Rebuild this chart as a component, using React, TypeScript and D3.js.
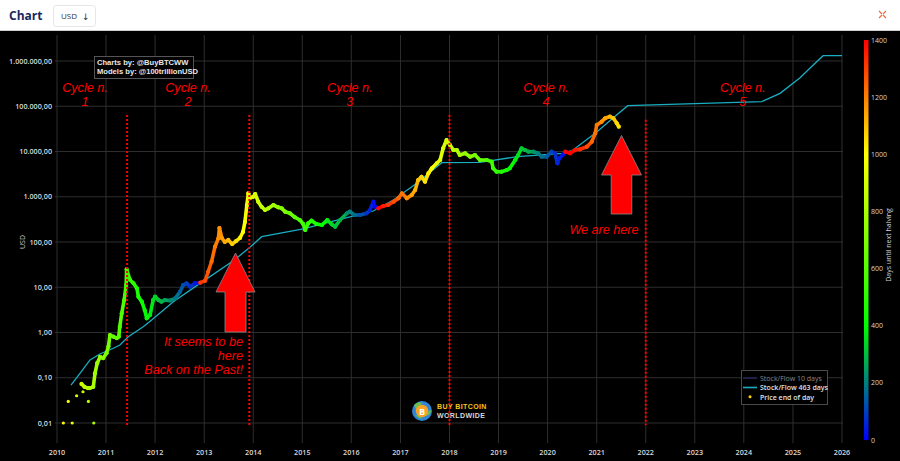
import React from 'react';
import * as d3 from 'd3';

const W = 900;
const H = 461;

// ---------- data ----------
const yearTicks = d3.range(2010, 2027);
const yTickValues = [0.01, 0.1, 1, 10, 100, 1000, 10000, 100000, 1000000];
const yTickLabels = ['0,01', '0,10', '1,00', '10,00', '100,00', '1.000,00', '10.000,00', '100.000,00', '1.000.000,00'];
const colorbarTicks = [0, 200, 400, 600, 800, 1000, 1200, 1400];
const halvingDates = ['2012-11-28', '2016-07-09', '2020-05-11', '2024-04-20'];

// Price end of day (decimal year, USD) – continuous part
const priceYears = [
  2010.50, 2010.56, 2010.63, 2010.67, 2010.74, 2010.775, 2010.82, 2010.88, 2010.94, 2011.01,
  2011.05, 2011.08, 2011.15, 2011.22, 2011.26, 2011.28, 2011.32, 2011.37, 2011.41, 2011.42,
  2011.49, 2011.56, 2011.63, 2011.66, 2011.73, 2011.79, 2011.83, 2011.90, 2011.96, 2012.00,
  2012.07, 2012.13, 2012.20, 2012.30, 2012.41, 2012.51, 2012.57, 2012.64, 2012.71, 2012.81,
  2012.92, 2013.02, 2013.08, 2013.15, 2013.22, 2013.29, 2013.31, 2013.36, 2013.42, 2013.49,
  2013.57, 2013.65, 2013.73, 2013.79, 2013.83, 2013.87, 2013.90, 2013.93, 2014.00, 2014.04,
  2014.10, 2014.17, 2014.24, 2014.31, 2014.41, 2014.51, 2014.58, 2014.65, 2014.75, 2014.85,
  2014.95, 2015.02, 2015.06, 2015.12, 2015.19, 2015.29, 2015.40, 2015.51, 2015.60, 2015.67,
  2015.77, 2015.91, 2015.97, 2016.07, 2016.18, 2016.31, 2016.38, 2016.45, 2016.48, 2016.55,
  2016.65, 2016.75, 2016.86, 2016.96, 2017.03, 2017.13, 2017.23, 2017.30, 2017.36, 2017.43,
  2017.50, 2017.57, 2017.64, 2017.74, 2017.81, 2017.87, 2017.94, 2018.01, 2018.08, 2018.15,
  2018.21, 2018.32, 2018.42, 2018.52, 2018.62, 2018.76, 2018.86, 2018.89, 2018.96, 2019.06,
  2019.17, 2019.23, 2019.34, 2019.40, 2019.47, 2019.54, 2019.61, 2019.71, 2019.81, 2019.88,
  2019.98, 2020.08, 2020.15, 2020.20, 2020.24, 2020.31, 2020.36, 2020.46, 2020.56, 2020.66,
  2020.80, 2020.90, 2020.97, 2021.00, 2021.10, 2021.17, 2021.27, 2021.34, 2021.41, 2021.45,
];
const priceUSD = [
  0.073, 0.063, 0.059, 0.059, 0.063, 0.125, 0.21, 0.29, 0.27, 0.35,
  0.49, 0.88, 0.81, 0.75, 0.81, 1.34, 2.65, 5.2, 11.2, 24.9,
  14.5, 12.2, 9.5, 6.2, 4.8, 3.1, 2.06, 2.44, 5.2, 6.2,
  5.2, 4.8, 5.2, 5.1, 5.7, 8.0, 11.2, 12.2, 10.3, 12.2,
  12.6, 14, 22, 37, 79, 121, 204, 122, 100, 111,
  90, 105, 123, 166, 277, 657, 1190, 940, 1000, 1150,
  780, 600, 510, 556, 657, 585, 556, 468, 431, 352,
  306, 250, 184, 259, 296, 250, 238, 306, 246, 218,
  306, 431, 468, 395, 395, 431, 509, 778, 603, 556,
  625, 657, 778, 925, 1190, 925, 1090, 1410, 2345, 2770,
  2150, 3300, 4255, 5490, 6490, 11770, 17950, 13930, 10790, 10790,
  8370, 9120, 7670, 8370, 6490, 6490, 5960, 4255, 3580, 3580,
  3900, 4255, 6490, 8370, 11770, 10790, 9900, 9900, 9120, 7670,
  7670, 9900, 9120, 5490, 7080, 8370, 9900, 9120, 10790, 11190,
  12770, 16480, 25240, 38550, 45600, 54200, 59300, 54200, 42000, 35300,
];
// Early isolated price dots
const strayYears = [2010.13, 2010.23, 2010.31, 2010.40, 2010.53, 2010.64, 2010.75];
const strayUSD = [0.01, 0.03, 0.01, 0.04, 0.049, 0.03, 0.01];

// Stock/Flow 463 days model
const s2fYears = [
  2010.285, 2010.469, 2010.673, 2010.876, 2011.148, 2011.284, 2011.453, 2011.759, 2011.930, 2012.371,
  2012.915, 2013.594, 2013.934, 2014.172, 2015.021, 2015.768, 2016.447, 2016.855, 2017.332, 2017.841,
  2018.622, 2019.376, 2020.314, 2020.518, 2021.007, 2021.333, 2021.633, 2024.364, 2024.737, 2025.145,
  2025.349, 2025.614, 2026.0,
];
const s2fUSD = [
  0.069, 0.125, 0.247, 0.335, 0.448, 0.53, 0.807, 1.34, 1.89, 4.8,
  12.2, 38.6, 76.4, 131, 194, 318, 484, 847, 1983, 5660,
  5770, 7670, 9120, 10790, 27400, 55000, 102800, 126100, 193000, 428000,
  700000, 1310000, 1310000,
];

const cycleLabelYears = [2010.57, 2012.67, 2015.97, 2019.97, 2023.98];
const cycleNumbers = ['1', '2', '3', '4', '5'];
const cycleLineYears = [2011.43, 2013.92, 2018.0, 2022.0];
const cycleLineTops = [64000, 64000, 64000, 50000];
const pastNoteLines = ['It seems to be', 'here', 'Back on the Past!'];

const colorStops = [0, 400, 1000, 1400];
const colorRange = ['#0000ff', '#00ff00', '#ffff00', '#ff0000'];

// ---------- helpers ----------
const toDate = (y: number) => {
  const yr = Math.floor(y);
  const s = Date.UTC(yr, 0, 1);
  const e = Date.UTC(yr + 1, 0, 1);
  return new Date(s + (y - yr) * (e - s));
};
const halvings = halvingDates.map((d) => new Date(d + 'T00:00:00Z'));
const daysUntilHalving = (d: Date) => {
  const h = halvings.find((x) => x.getTime() > d.getTime()) || halvings[halvings.length - 1];
  return (h.getTime() - d.getTime()) / 864e5;
};

const xScale = d3.scaleUtc()
  .domain([new Date(Date.UTC(2010, 0, 1)), new Date(Date.UTC(2026, 0, 1))])
  .range([57, 842]);
const yScale = d3.scaleLog().domain([0.01, 1e6]).range([423, 61]);
const colorScale = d3.scaleLinear<string>().domain(colorStops).range(colorRange).clamp(true);
const cbScale = d3.scaleLinear().domain([0, 1400]).range([440, 40]);

const PLOT = { left: 55, right: 843, top: 35, bottom: 443 };
const FONT = "'Open Sans', 'DejaVu Sans', sans-serif";
const NOTE_FONT = "'Liberation Sans', Arial, sans-serif";
const NOTE_SIZE = 12.6;
const NOTE_LH = 14.2;
const CYAN = '#19adc1';
const RED = '#ff0000';

function Arrow({ tipX, tipY, headY, halfHead, halfShaft, bottomY }: any) {
  const pts = [
    [tipX, tipY],
    [tipX + halfHead, headY],
    [tipX + halfShaft, headY],
    [tipX + halfShaft, bottomY],
    [tipX - halfShaft, bottomY],
    [tipX - halfShaft, headY],
    [tipX - halfHead, headY],
  ];
  return <polygon points={pts.map((p) => p.join(',')).join(' ')} fill={RED} stroke="#8a8a8a" strokeWidth={0.8} />;
}

export default function App() {
  const price = priceYears.map((y, i) => {
    const d = toDate(y);
    return { x: xScale(d), y: yScale(priceUSD[i]), c: colorScale(daysUntilHalving(d)) };
  });
  const stray = strayYears.map((y, i) => {
    const d = toDate(y);
    return { x: xScale(d), y: yScale(strayUSD[i]), c: colorScale(daysUntilHalving(d)) };
  });
  const s2fLine = d3.line<number>()
    .x((_, i) => xScale(toDate(s2fYears[i])))
    .y((v) => yScale(v))(s2fUSD) as string;

  return (
    <svg width={W} height={H} style={{ position: 'absolute', left: 0, top: 0, fontFamily: FONT }}>
      <defs>
        <linearGradient id="cb" x1="0" y1="1" x2="0" y2="0">
          {colorStops.map((s, i) => (
            <stop key={i} offset={s / 1400} stopColor={colorRange[i]} />
          ))}
        </linearGradient>
      </defs>
      {/* header */}
      <rect x={0} y={0} width={W} height={31} fill="#fff" />
      <text x={9} y={20} fontSize={12} fontWeight={700} fill="#17295a">Chart</text>
      <rect x={53.5} y={5.5} width={42} height={21} rx={3} fill="#fff" stroke="#e6e6e6" />
      <text x={61} y={19} fontSize={8} fill="#333">USD</text>
      <text x={82} y={19.5} fontSize={9} fill="#333">↓</text>
      <path d="M879,11 l3,3 M886,11 l-3,3 M879,18 l3,-3 M886,18 l-3,-3" stroke="#f26a3d" strokeWidth={1.2} fill="none" />
      <rect x={0} y={30} width={W} height={1} fill="#cfcfcf" />
      {/* chart background */}
      <rect x={0} y={31} width={W} height={H - 31} fill="#000" />

      {/* grid */}
      {yearTicks.map((yr) => {
        const x = xScale(new Date(Date.UTC(yr, 0, 1)));
        return (
          <g key={yr}>
            <line x1={x} x2={x} y1={PLOT.top} y2={PLOT.bottom} stroke="#2e2e2e" strokeWidth={1} />
            <text x={x} y={455} fontSize={7.2} fontWeight={600} fill="#d8d8d8" textAnchor="middle">{yr}</text>
          </g>
        );
      })}
      {yTickValues.map((v, i) => {
        const y = yScale(v);
        return (
          <g key={v}>
            <line x1={PLOT.left} x2={PLOT.right} y1={y} y2={y} stroke="#2e2e2e" strokeWidth={1} />
            <text x={52} y={y + 2.5} fontSize={7.2} fontWeight={600} fill="#d8d8d8" textAnchor="end">{yTickLabels[i]}</text>
          </g>
        );
      })}
      <text transform="translate(25,242) rotate(-90)" fontSize={7} fill="#cfcfcf" textAnchor="middle">USD</text>

      {/* logo */}
      <g>
        <circle cx={422} cy={411} r={10} fill="#2f86d6" />
        <path d="M414,405 q4,-4 8,-2 q-2,4 -6,6 z M426,416 q5,-1 5,-6 q-4,1 -5,6 z M415,415 q3,3 7,4 q-1,-4 -7,-4 z" fill="#6cc04a" />
        <circle cx={422} cy={411} r={6.2} fill="#f7a325" />
        <text x={422} y={414.5} fontSize={9} fontWeight={700} fill="#fff" textAnchor="middle">B</text>
        <text x={437} y={409.3} fontFamily={NOTE_FONT} fontSize={7} fontWeight={700} fill="#f5c518" letterSpacing={0.4}>BUY BITCOIN</text>
        <text x={437} y={417.8} fontFamily={NOTE_FONT} fontSize={7} fontWeight={700} fill="#d8d8d8" letterSpacing={0.4}>WORLDWIDE</text>
      </g>

      {/* S2F 463 days */}
      <path d={s2fLine} fill="none" stroke={CYAN} strokeWidth={1.3} />

      {/* price: stray dots */}
      {stray.map((p, i) => (
        <circle key={'s' + i} cx={p.x} cy={p.y} r={1.6} fill={p.c} />
      ))}
      {/* price: continuous segments */}
      {price.slice(1).map((p, i) => (
        <line key={'l' + i} x1={price[i].x} y1={price[i].y} x2={p.x} y2={p.y} stroke={price[i].c} strokeWidth={3.6} strokeLinecap="round" />
      ))}
      {price.map((p, i) => (
        <circle key={'p' + i} cx={p.x} cy={p.y} r={2.1} fill={p.c} />
      ))}

      {/* cycle lines */}
      {cycleLineYears.map((yr, i) => {
        const x = xScale(toDate(yr));
        return (
          <line key={'c' + i} x1={x} x2={x} y1={yScale(cycleLineTops[i])} y2={yScale(0.009)} stroke={RED} strokeWidth={2} strokeDasharray="2,2" />
        );
      })}
      {/* cycle labels */}
      {cycleLabelYears.map((yr, i) => {
        const x = xScale(toDate(yr));
        return (
          <text key={'cl' + i} x={x} y={91.5} fontFamily={NOTE_FONT} fontStyle="italic" fontSize={NOTE_SIZE} fill={RED} textAnchor="middle">
            <tspan x={x} dy={0}>Cycle n.</tspan>
            <tspan x={x} dy={NOTE_LH}>{cycleNumbers[i]}</tspan>
          </text>
        );
      })}

      {/* arrows & notes */}
      <Arrow tipX={235.5} tipY={253} headY={292} halfHead={19.5} halfShaft={10.5} bottomY={332} />
      <text x={243} y={345.5} fontFamily={NOTE_FONT} fontStyle="italic" fontSize={NOTE_SIZE} fill={RED} textAnchor="end">
        {pastNoteLines.map((l, i) => (
          <tspan key={i} x={243} dy={i === 0 ? 0 : NOTE_LH}>{l}</tspan>
        ))}
      </text>
      <Arrow tipX={621.5} tipY={135.5} headY={175} halfHead={20} halfShaft={10.3} bottomY={214} />
      <text x={604} y={234} fontFamily={NOTE_FONT} fontStyle="italic" fontSize={NOTE_SIZE} fill={RED} textAnchor="middle">We are here</text>

      {/* credits box */}
      <rect x={94.5} y={56.5} width={99} height={22} fill="#000" stroke="#555" strokeWidth={1} />
      <text x={97} y={65} fontFamily={NOTE_FONT} fontSize={7.6} fontWeight={700} fill="#e8e8e8">
        <tspan x={97} dy={0}>Charts by: @BuyBTCWW</tspan>
        <tspan x={97} dy={9}>Models by: @100trillionUSD</tspan>
      </text>

      {/* legend */}
      <rect x={741.5} y={370.5} width={86} height={34} fill="#000" stroke="#4a4a4a" strokeWidth={1} />
      <line x1={743} x2={757} y1={378} y2={378} stroke="#34346e" strokeWidth={1.3} />
      <text x={760} y={380.5} fontSize={7} fill="#8a8a8a">Stock/Flow 10 days</text>
      <line x1={743} x2={757} y1={387.5} y2={387.5} stroke={CYAN} strokeWidth={1.6} />
      <text x={760} y={390} fontSize={7} fontWeight={600} fill="#e0e0e0">Stock/Flow 463 days</text>
      <circle cx={750} cy={396.8} r={1.5} fill="#ffd200" />
      <text x={760} y={399.5} fontSize={7} fontWeight={600} fill="#e0e0e0">Price end of day</text>

      {/* colorbar */}
      <rect x={864} y={40} width={4.5} height={400} fill="url(#cb)" />
      {colorbarTicks.map((t) => (
        <text key={t} x={871} y={cbScale(t) + 2.5} fontSize={7} fill="#d8d8d8">{t}</text>
      ))}
      <text transform="translate(891,245) rotate(-90)" fontSize={7} fill="#d8d8d8" textAnchor="middle">Days until next halving</text>
    </svg>
  );
}
